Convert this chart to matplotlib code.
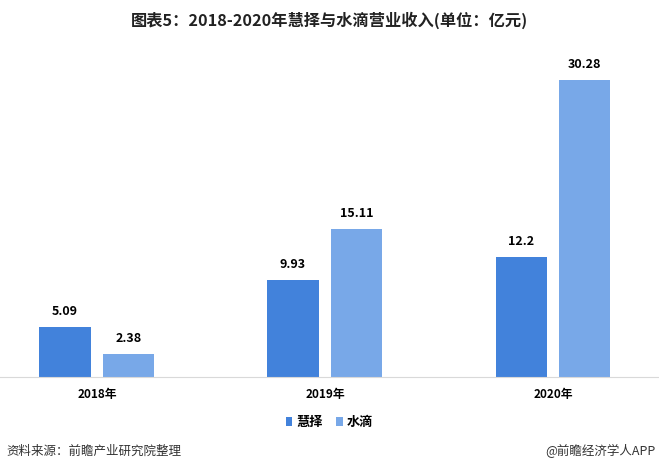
import matplotlib
matplotlib.use("Agg")
import matplotlib.pyplot as plt
import numpy as np

plt.rcParams["font.family"] = ["Noto Sans CJK SC", "DejaVu Sans"]

# 数据
years = ["2018年", "2019年", "2020年"]
huize = [5.09, 9.93, 12.2]
shuidi = [2.38, 15.11, 30.28]
labels_huize = ["5.09", "9.93", "12.2"]
labels_shuidi = ["2.38", "15.11", "30.28"]
series_names = ["慧择", "水滴"]

c_dark = "#4282DB"
c_light = "#78A8E8"

fig = plt.figure(figsize=(6.59, 4.73), dpi=100)
ax = fig.add_axes([0.0, 1 - 377 / 473, 1.0, 317 / 473])

x = np.arange(len(years))
w = 0.224
off = 0.14
b1 = ax.bar(x - off, huize, w, color=c_dark, label=series_names[0])
b2 = ax.bar(x + off, shuidi, w, color=c_light, label=series_names[1])

for rect, txt in zip(b1, labels_huize):
    ax.text(rect.get_x() + rect.get_width() / 2, rect.get_height() + 0.9, txt,
            ha="center", va="bottom", fontsize=9, fontweight="bold")
for rect, txt in zip(b2, labels_shuidi):
    ax.text(rect.get_x() + rect.get_width() / 2, rect.get_height() + 0.9, txt,
            ha="center", va="bottom", fontsize=9, fontweight="bold")

ax.set_xlim(-0.425, 2.465)
ax.set_ylim(0, 32.31)
ax.set_yticks([])
ax.set_xticks(x)
ax.set_xticklabels(years, fontsize=8.5, fontweight="bold")
ax.tick_params(axis="x", length=0, pad=8)
for s in ["top", "left", "right"]:
    ax.spines[s].set_visible(False)
ax.spines["bottom"].set_color("#D9D9D9")

fig.legend(handles=[b1, b2], labels=series_names, loc="center",
           bbox_to_anchor=(0.5, 1 - 422 / 473), ncol=2, frameon=False,
           prop={"size": 9.5, "weight": "bold"}, handlelength=0.5, handleheight=0.6,
           handletextpad=0.3, columnspacing=1.0)

fig.text(0.5, 1 - 20 / 473, "图表5：2018-2020年慧择与水滴营业收入(单位：亿元)",
         ha="center", va="center", fontsize=11.7, fontweight="bold", color="#222222")
fig.text(6 / 659, 1 - 451 / 473, "资料来源：前瞻产业研究院整理",
         ha="left", va="center", fontsize=9, color="#333333")
fig.text(655 / 659, 1 - 451 / 473, "@前瞻经济学人APP",
         ha="right", va="center", fontsize=9, color="#333333")

fig.savefig("out.png", dpi=100)
